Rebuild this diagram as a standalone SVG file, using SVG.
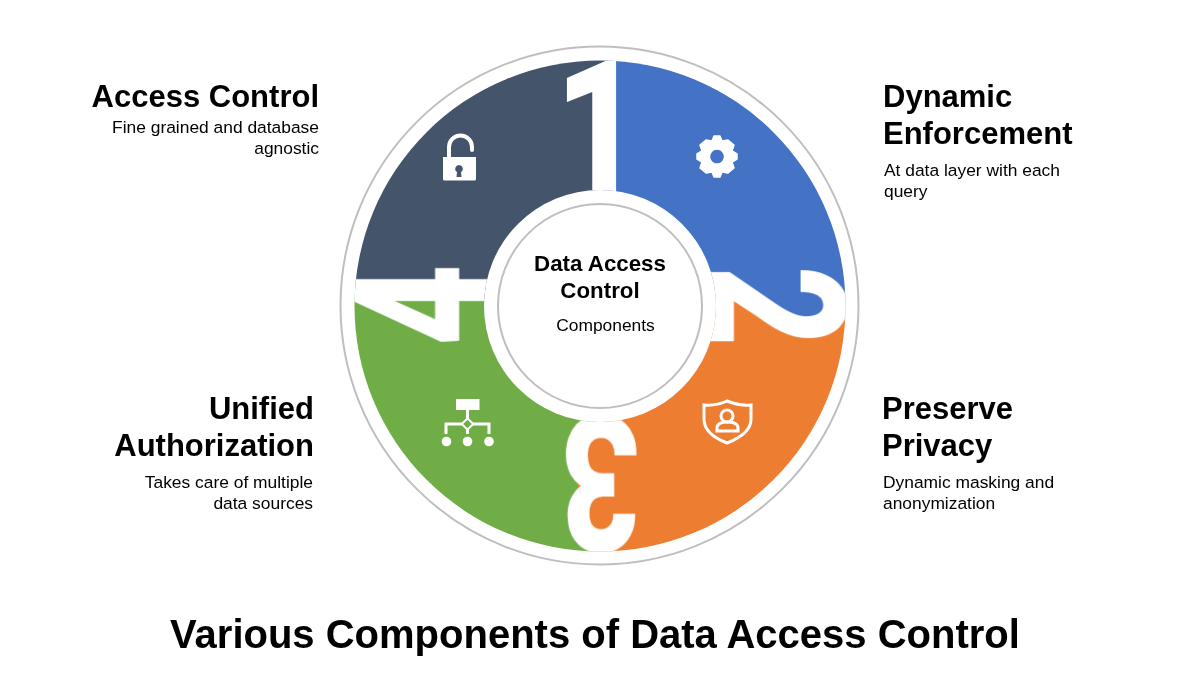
<svg xmlns="http://www.w3.org/2000/svg" width="1200" height="675" viewBox="0 0 1200 675">
<style>
text{font-family:"Liberation Sans",Arial,sans-serif;fill:#000}
.h{font-size:31px;font-weight:700}
.s{font-size:17.4px}
.c{font-size:22.300px;font-weight:700;text-anchor:middle}
.e{text-anchor:end}
.ring{fill:none;stroke:#bfbfbf;stroke-width:2}
.d{font-family:"Roboto","Liberation Sans",sans-serif;font-weight:700;font-size:100px;fill:#fff;stroke:#fff;stroke-width:3;vector-effect:non-scaling-stroke;text-anchor:middle}
.i{fill:#fff}
.o{fill:none;stroke:#fff}
</style>
<defs>
<mask id="annulus"><rect width="1200" height="675" fill="#000"/><circle cx="600" cy="306" r="245.500" fill="#fff"/><circle cx="600" cy="306" r="116" fill="#000"/></mask>
</defs>
<rect width="1200" height="675" fill="#fff"/>
<circle class="ring" cx="599.500" cy="305.500" r="259"/>
<g id="segments" mask="url(#annulus)">
<polygon id="seg1" fill="#44546a" points="600,306 605,306 605,100 612,40 340,40 340,290"/>
<polygon id="seg2" fill="#4472c4" points="605,306 605,100 612,40 860,40 860,300 845,300 830,323 803,326 780,320 735,290 600,306"/>
<polygon id="seg3" fill="#ed7d31" points="600,306 735,290 780,320 803,326 830,323 845,300 860,300 860,570 600,570 600,555 578,520 578,450 600,418"/>
<polygon id="seg4" fill="#70ad47" points="600,306 600,418 578,450 578,520 600,555 600,570 340,570 340,290"/>
</g>
<g id="numerals" mask="url(#annulus)">
<text class="d" transform="translate(599,192) scale(1.5,1.85)">1</text>
<text class="d" transform="translate(712,306) rotate(90) scale(1.37,1.85)">2</text>
<text class="d" transform="translate(600,418) rotate(180) scale(1.37,1.85)">3</text>
<text class="d" transform="translate(486,305) rotate(270) scale(1.37,1.85)">4</text>
</g>
<circle class="ring" cx="600" cy="306" r="102"/>
<g id="center">
<text class="c" x="600" y="271">Data Access</text>
<text class="c" x="600" y="298">Control</text>
<text class="s" x="605.500" y="331" text-anchor="middle">Components</text>
</g>
<g id="node-access">
<text class="h e" x="319" y="107">Access Control</text>
<text class="s e" x="319" y="133">Fine grained and database</text>
<text class="s e" x="319" y="154">agnostic</text>
<path class="i" d="M443 157H476V179Q476 180.500 474.500 180.500H444.500Q443 180.500 443 179ZM459 165a3.800 3.800 0 0 0-2 7L456.500 177H461.500L461 172a3.800 3.800 0 0 0-2-7Z" fill-rule="evenodd"/>
<path class="o" stroke-width="4" stroke-linecap="round" d="M449 157V147A11.500 11.500 0 0 1 472 147V150"/>
</g>
<g id="node-dynamic">
<text class="h" x="883" y="107">Dynamic</text>
<text class="h" x="883" y="144">Enforcement</text>
<text class="s" x="884" y="176">At data layer with each</text>
<text class="s" x="884" y="197">query</text>
<path class="i" stroke="#fff" stroke-width="1.500" stroke-linejoin="round" fill-rule="evenodd" d="M714 136H720L722 141L728 140L734 145L732 151L737 154V159L732 162L734 168L728 173L722 172L720 177H714L712 172L706 173L700 168L702 162L697 159V154L702 151L700 145L706 140L712 141ZM717 149a7.500 7.500 0 1 0 .01 0Z"/>
</g>
<g id="node-privacy">
<text class="h" x="882" y="419">Preserve</text>
<text class="h" x="882" y="456">Privacy</text>
<text class="s" x="883" y="488">Dynamic masking and</text>
<text class="s" x="883" y="509">anonymization</text>
<path class="o" stroke-width="3" d="M704 405Q716 406 727 401Q739 406 751 405V419C751 431 740 438 727 443C714 438 704 431 704 419Z"/>
<circle class="o" stroke-width="3" cx="727" cy="416" r="6"/>
<path class="o" stroke-width="3" d="M717 431V428C717 423 721 422 727 422C733 422 738 423 738 428V431Z"/>
</g>
<g id="node-unified">
<text class="h e" x="314" y="419">Unified</text>
<text class="h e" x="314" y="456">Authorization</text>
<text class="s e" x="313" y="488">Takes care of multiple</text>
<text class="s e" x="313" y="509">data sources</text>
<rect class="i" x="456" y="399" width="23.500" height="11"/>
<path class="o" stroke-width="3" d="M467.500 410V418M462 424H446V434M473 424H489V434M467.500 430V434"/>
<rect class="o" stroke-width="2" x="463.500" y="420" width="8" height="8" transform="rotate(45 467.500 424)"/>
<circle class="i" cx="446.500" cy="441.500" r="4.800"/>
<circle class="i" cx="467.500" cy="441.500" r="4.800"/>
<circle class="i" cx="489" cy="441.500" r="4.800"/>
</g>
<text id="title" x="595" y="648" text-anchor="middle" font-size="40" font-weight="700">Various Components of Data Access Control</text>
</svg>
